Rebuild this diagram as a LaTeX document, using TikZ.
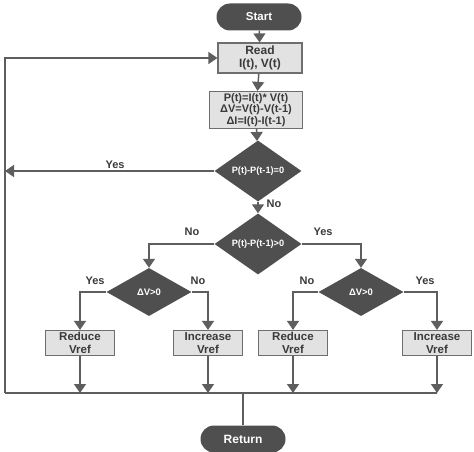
\documentclass[tikz,border=0pt]{standalone}
\usepackage{fontspec}
\setmainfont{Liberation Sans}
\usetikzlibrary{shapes.geometric,shapes.misc,arrows.meta}
\definecolor{darkf}{HTML}{4F4F4F}
\definecolor{boxf}{HTML}{E2E2E2}
\definecolor{boxd}{HTML}{6E6E6E}
\definecolor{linec}{HTML}{5E5E5E}
\definecolor{txt}{HTML}{3A3A3A}
\begin{document}
\begin{tikzpicture}[x=1pt,y=-1pt,
  pill/.style={rounded rectangle, fill=darkf, text=white, font=\bfseries\fontsize{11.5}{12}\selectfont, minimum width=85pt, minimum height=27pt, inner sep=0pt},
  procbox/.style={rectangle, fill=boxf, draw=boxd, line width=1.2pt, text=txt, font=\bfseries\fontsize{11.5}{12.5}\selectfont, align=center, inner sep=0pt},
  decide/.style={diamond, fill=darkf, text=white, font=\bfseries\fontsize{9.2}{10}\selectfont, inner sep=0pt, minimum width=87pt, minimum height=46pt},
  lbl/.style={text=txt, font=\bfseries\fontsize{11}{12}\selectfont, inner sep=0pt},
  flow/.style={draw=linec, line width=1.5pt, -{Triangle[width=12pt,length=9pt]}},
  plain/.style={draw=linec, line width=1.5pt}]
\useasboundingbox (0,0) rectangle (474,452);
\node[pill] (start) at (259,17) {Start};
\node[procbox, minimum width=84pt, minimum height=30pt, font=\bfseries\fontsize{12}{12.5}\selectfont] (read) at (260,58) {Read\\I(t), V(t)};
\node[procbox, minimum width=93pt, minimum height=37pt, font=\bfseries\fontsize{11}{11.7}\selectfont] (calc) at (256,110) {P(t)=I(t)* V(t)\\ΔV=V(t)-V(t-1)\\ΔI=I(t)-I(t-1)};
\node[decide] (d1) at (258,171) {P(t)-P(t-1)=0};
\node[decide] (d2) at (258,244) {P(t)-P(t-1)>0};
\node[decide, minimum width=85pt, minimum height=48pt, font=\bfseries\fontsize{9.5}{10}\selectfont] (d3) at (149,292) {ΔV>0};
\node[decide, minimum width=85pt, minimum height=48pt, font=\bfseries\fontsize{9.5}{10}\selectfont] (d4) at (361,292) {ΔV>0};
\node[procbox, minimum width=69pt, minimum height=25pt] (r1) at (80,343) {Reduce\\Vref};
\node[procbox, minimum width=69pt, minimum height=25pt] (i1) at (208,343) {Increase\\Vref};
\node[procbox, minimum width=69pt, minimum height=25pt] (r2) at (293,343) {Reduce\\Vref};
\node[procbox, minimum width=69pt, minimum height=25pt] (i2) at (437,343) {Increase\\Vref};
\node[pill, font=\bfseries\fontsize{12}{12}\selectfont] (ret) at (243,439) {Return};
\coordinate (jr1) at (80,393);
\coordinate (ji1) at (208,393);
\coordinate (jr2) at (293,393);
\coordinate (ji2) at (437,393);
\coordinate (jm) at (243,393);
\coordinate (ll) at (5,393);
\coordinate (lt) at (5,58);
\coordinate (ly) at (5,171);
\draw[flow] (start) -- (read);
\draw[flow] (read) -- (calc);
\draw[flow] (calc) -- (d1);
\draw[flow] (d1) -- (d2);
\draw[flow] (d1.west) -- (ly);
\draw[flow] (d2.west) -| (d3.north);
\draw[flow] (d2.east) -| (d4.north);
\draw[flow] (d3.west) -| (r1.north);
\draw[flow] (d3.east) -| (i1.north);
\draw[flow] (d4.west) -| (r2.north);
\draw[flow] (d4.east) -| (i2.north);
\draw[flow] (r1) -- (jr1);
\draw[flow] (i1) -- (ji1);
\draw[flow] (r2) -- (jr2);
\draw[flow] (i2) -- (ji2);
\draw[plain] (ji2) -- (ll);
\draw[flow] (ll) -- (lt) -- (read.west);
\draw[plain] (jm) -- (ret);
\node[lbl] (lyes) at (115,165) {Yes};
\node[lbl] (lno1) at (274,204) {No};
\node[lbl] (lno2) at (192,232) {No};
\node[lbl] (lyes2) at (323,232) {Yes};
\node[lbl] (lyes3) at (95,281) {Yes};
\node[lbl] (lno3) at (198,281) {No};
\node[lbl] (lno4) at (307,281) {No};
\node[lbl] (lyes4) at (425,281) {Yes};
\end{tikzpicture}
\end{document}
